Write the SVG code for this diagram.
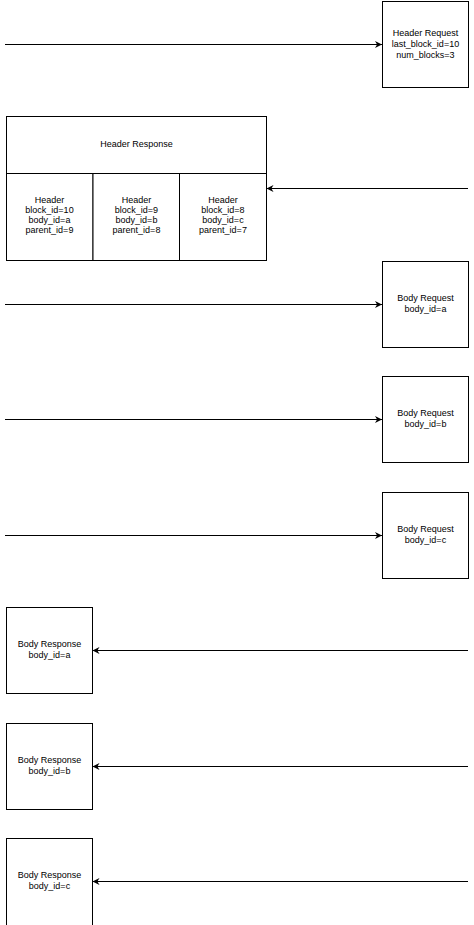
<svg xmlns="http://www.w3.org/2000/svg" width="474" height="925" viewBox="0 0 474 925">
<defs>
<marker id="ah" viewBox="0 0 10 10" refX="10" refY="5" markerWidth="7" markerHeight="7" markerUnits="userSpaceOnUse" orient="auto">
<path d="M0,0 L10,5 L0,10 L3,5 Z" fill="#000"/>
</marker>
<style>
.box{fill:#fff;stroke:#000;stroke-width:1}
.t{font-family:"Liberation Sans",Arial,sans-serif;font-size:9px;fill:#000;text-anchor:middle}
.c{stroke:#000;stroke-width:1;fill:none;marker-end:url(#ah)}
</style>
</defs>
<rect width="474" height="925" fill="#fff"/>
<g id="connectors">
<line class="c" x1="5" y1="44.5" x2="382" y2="44.5"/>
<line class="c" x1="468" y1="188.5" x2="266.5" y2="188.5"/>
<line class="c" x1="5" y1="304.5" x2="382" y2="304.5"/>
<line class="c" x1="5" y1="419.5" x2="382" y2="419.5"/>
<line class="c" x1="5" y1="535.5" x2="382" y2="535.5"/>
<line class="c" x1="468" y1="650.5" x2="92.5" y2="650.5"/>
<line class="c" x1="468" y1="766.5" x2="92.5" y2="766.5"/>
<line class="c" x1="468" y1="881.5" x2="92.5" y2="881.5"/>
</g>
<g id="header-request">
<rect class="box" x="382.5" y="1.5" width="86" height="86"/>
<text class="t" x="425.5" y="36">Header Request</text>
<text class="t" x="425.5" y="47">last_block_id=10</text>
<text class="t" x="425.5" y="58">num_blocks=3</text>
</g>
<g id="header-response">
<rect class="box" x="6.5" y="116.5" width="260" height="57"/>
<text class="t" x="136.5" y="147">Header Response</text>
</g>
<g id="header-10">
<rect class="box" x="6.5" y="173.5" width="86.5" height="87"/>
<text class="t" x="49.5" y="203">Header</text>
<text class="t" x="49.5" y="213">block_id=10</text>
<text class="t" x="49.5" y="223">body_id=a</text>
<text class="t" x="49.5" y="233">parent_id=9</text>
</g>
<g id="header-9">
<rect class="box" x="93" y="173.5" width="86.5" height="87"/>
<text class="t" x="136.5" y="203">Header</text>
<text class="t" x="136.5" y="213">block_id=9</text>
<text class="t" x="136.5" y="223">body_id=b</text>
<text class="t" x="136.5" y="233">parent_id=8</text>
</g>
<g id="header-8">
<rect class="box" x="179.5" y="173.5" width="87" height="87"/>
<text class="t" x="223" y="203">Header</text>
<text class="t" x="223" y="213">block_id=8</text>
<text class="t" x="223" y="223">body_id=c</text>
<text class="t" x="223" y="233">parent_id=7</text>
</g>
<g id="body-request-a">
<rect class="box" x="382.5" y="261.5" width="86" height="86"/>
<text class="t" x="425.5" y="301">Body Request</text>
<text class="t" x="425.5" y="312">body_id=a</text>
</g>
<g id="body-request-b">
<rect class="box" x="382.5" y="376.5" width="86" height="86"/>
<text class="t" x="425.5" y="416">Body Request</text>
<text class="t" x="425.5" y="427">body_id=b</text>
</g>
<g id="body-request-c">
<rect class="box" x="382.5" y="492.5" width="86" height="86"/>
<text class="t" x="425.5" y="532">Body Request</text>
<text class="t" x="425.5" y="543">body_id=c</text>
</g>
<g id="body-response-a">
<rect class="box" x="6.5" y="607.5" width="86" height="86"/>
<text class="t" x="49.5" y="647">Body Response</text>
<text class="t" x="49.5" y="658">body_id=a</text>
</g>
<g id="body-response-b">
<rect class="box" x="6.5" y="723.5" width="86" height="86"/>
<text class="t" x="49.5" y="763">Body Response</text>
<text class="t" x="49.5" y="774">body_id=b</text>
</g>
<g id="body-response-c">
<rect class="box" x="6.5" y="838.5" width="86" height="90"/>
<text class="t" x="49.5" y="878">Body Response</text>
<text class="t" x="49.5" y="889">body_id=c</text>
</g>
</svg>
